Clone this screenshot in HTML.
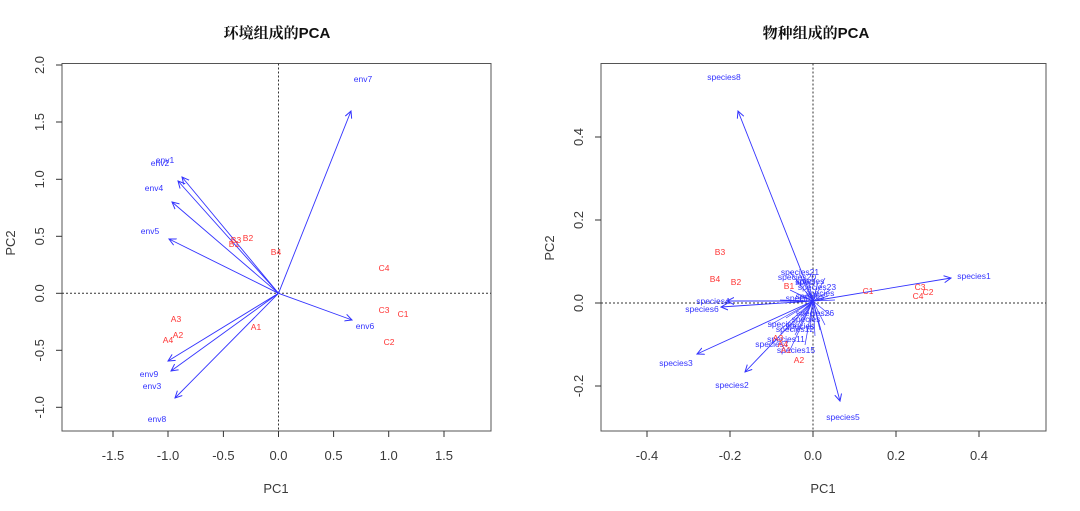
<!DOCTYPE html>
<html><head><meta charset="utf-8"><style>
body{margin:0;background:#fff;}
svg{display:block;font-family:"Liberation Sans",Arial,sans-serif;}
.t{font-size:13px;fill:#3a3a3a}
.b{font-size:8.5px;fill:#33f}
.r{font-size:8.5px;fill:#f33}
</style></head><body>
<svg width="1080" height="511" viewBox="0 0 1080 511">
<defs>
<marker id="ah" markerWidth="8" markerHeight="8" refX="7" refY="4" orient="auto" markerUnits="userSpaceOnUse"><path d="M0,0.5 L7,4 L0,7.5" fill="none" stroke="#33f" stroke-width="1"/></marker>
</defs>
<!-- LEFT -->
<text x="277" y="38" text-anchor="middle" style="font-family:'Liberation Sans','Noto Serif CJK SC',serif;font-weight:bold;font-size:15px;fill:#111">环境组成的PCA</text>
<rect x="62" y="63.5" width="429" height="367.5" fill="none" stroke="#555" stroke-width="1"/>
<line x1="278.5" y1="63.5" x2="278.5" y2="431" stroke="#333" stroke-dasharray="2,2"/>
<line x1="62" y1="293.3" x2="491" y2="293.3" stroke="#333" stroke-dasharray="2,2"/>
<g stroke="#333">
<line x1="113" y1="431" x2="113" y2="437"/><line x1="168" y1="431" x2="168" y2="437"/><line x1="223.4" y1="431" x2="223.4" y2="437"/><line x1="278.5" y1="431" x2="278.5" y2="437"/><line x1="333.6" y1="431" x2="333.6" y2="437"/><line x1="388.7" y1="431" x2="388.7" y2="437"/><line x1="444" y1="431" x2="444" y2="437"/>
<line x1="56" y1="65" x2="62" y2="65"/><line x1="56" y1="122" x2="62" y2="122"/><line x1="56" y1="179.3" x2="62" y2="179.3"/><line x1="56" y1="236.3" x2="62" y2="236.3"/><line x1="56" y1="293.3" x2="62" y2="293.3"/><line x1="56" y1="350.3" x2="62" y2="350.3"/><line x1="56" y1="407.3" x2="62" y2="407.3"/>
</g>
<g class="t" text-anchor="middle">
<text x="113" y="460">-1.5</text><text x="168" y="460">-1.0</text><text x="223.4" y="460">-0.5</text><text x="278.5" y="460">0.0</text><text x="333.6" y="460">0.5</text><text x="388.7" y="460">1.0</text><text x="444" y="460">1.5</text>
<text x="276" y="493">PC1</text>
</g>
<g class="t" text-anchor="middle">
<text transform="translate(44,65) rotate(-90)">2.0</text><text transform="translate(44,122) rotate(-90)">1.5</text><text transform="translate(44,179.3) rotate(-90)">1.0</text><text transform="translate(44,236.3) rotate(-90)">0.5</text><text transform="translate(44,293.3) rotate(-90)">0.0</text><text transform="translate(44,350.3) rotate(-90)">-0.5</text><text transform="translate(44,407.3) rotate(-90)">-1.0</text>
<text transform="translate(15,243) rotate(-90)">PC2</text>
</g>
<g stroke="#33f" stroke-width="0.9" marker-end="url(#ah)">
<line x1="278.5" y1="293.3" x2="351" y2="111"/>
<line x1="278.5" y1="293.3" x2="182" y2="177"/>
<line x1="278.5" y1="293.3" x2="178" y2="181"/>
<line x1="278.5" y1="293.3" x2="172" y2="202"/>
<line x1="278.5" y1="293.3" x2="169" y2="239"/>
<line x1="278.5" y1="293.3" x2="352" y2="320"/>
<line x1="278.5" y1="293.3" x2="168" y2="361"/>
<line x1="278.5" y1="293.3" x2="171" y2="371"/>
<line x1="278.5" y1="293.3" x2="175" y2="398"/>
</g>
<g class="b" text-anchor="middle">
<text x="363" y="82">env7</text><text x="165" y="163">env1</text><text x="160" y="166">env2</text><text x="154" y="191">env4</text><text x="150" y="234">env5</text><text x="365" y="329">env6</text><text x="149" y="377">env9</text><text x="152" y="389">env3</text><text x="157" y="422">env8</text>
</g>
<g class="r" text-anchor="middle">
<text x="248" y="241">B2</text><text x="236" y="243">B3</text><text x="234" y="247">B1</text><text x="276" y="255">B4</text><text x="384" y="271">C4</text><text x="384" y="313">C3</text><text x="403" y="317">C1</text><text x="389" y="345">C2</text><text x="176" y="322">A3</text><text x="178" y="338">A2</text><text x="168" y="343">A4</text><text x="256" y="330">A1</text>
</g>

<!-- RIGHT -->
<text x="816" y="38" text-anchor="middle" style="font-family:'Liberation Sans','Noto Serif CJK SC',serif;font-weight:bold;font-size:15px;fill:#111">物种组成的PCA</text>
<rect x="601" y="63.5" width="445" height="367.5" fill="none" stroke="#555" stroke-width="1"/>
<line x1="813" y1="63.5" x2="813" y2="431" stroke="#333" stroke-dasharray="2,2"/>
<line x1="601" y1="303" x2="1046" y2="303" stroke="#333" stroke-dasharray="2,2"/>
<g stroke="#333">
<line x1="647" y1="431" x2="647" y2="437"/><line x1="730" y1="431" x2="730" y2="437"/><line x1="813" y1="431" x2="813" y2="437"/><line x1="896" y1="431" x2="896" y2="437"/><line x1="979" y1="431" x2="979" y2="437"/>
<line x1="595" y1="137" x2="601" y2="137"/><line x1="595" y1="220" x2="601" y2="220"/><line x1="595" y1="303" x2="601" y2="303"/><line x1="595" y1="386" x2="601" y2="386"/>
</g>
<g class="t" text-anchor="middle">
<text x="647" y="460">-0.4</text><text x="730" y="460">-0.2</text><text x="813" y="460">0.0</text><text x="896" y="460">0.2</text><text x="979" y="460">0.4</text>
<text x="823" y="493">PC1</text>
<text transform="translate(583,137) rotate(-90)">0.4</text><text transform="translate(583,220) rotate(-90)">0.2</text><text transform="translate(583,303) rotate(-90)">0.0</text><text transform="translate(583,386) rotate(-90)">-0.2</text>
<text transform="translate(554,248) rotate(-90)">PC2</text>
</g>
<g stroke="#33f" stroke-width="0.9" marker-end="url(#ah)">
<line x1="813" y1="301" x2="738" y2="111"/>
<line x1="813" y1="301" x2="951" y2="278"/>
<line x1="813" y1="301" x2="697" y2="354"/>
<line x1="813" y1="301" x2="745" y2="372"/>
<line x1="813" y1="301" x2="840" y2="401"/>
<line x1="813" y1="301" x2="727" y2="301"/>
<line x1="813" y1="301" x2="721" y2="307"/>
</g>
<g stroke="#33f" stroke-width="0.7">
<line x1="813" y1="301" x2="790" y2="272"/><line x1="813" y1="301" x2="800" y2="275"/><line x1="813" y1="301" x2="825" y2="278"/><line x1="813" y1="301" x2="830" y2="290"/><line x1="813" y1="301" x2="790" y2="290"/><line x1="813" y1="301" x2="835" y2="300"/><line x1="813" y1="301" x2="780" y2="330"/><line x1="813" y1="301" x2="795" y2="335"/><line x1="813" y1="301" x2="805" y2="345"/><line x1="813" y1="301" x2="820" y2="330"/><line x1="813" y1="301" x2="790" y2="350"/><line x1="813" y1="301" x2="770" y2="325"/><line x1="813" y1="301" x2="825" y2="325"/><line x1="813" y1="301" x2="780" y2="300"/>
<line x1="813" y1="301" x2="808" y2="280"/><line x1="813" y1="301" x2="818" y2="282"/><line x1="813" y1="301" x2="828" y2="296"/><line x1="813" y1="301" x2="800" y2="296"/><line x1="813" y1="301" x2="798" y2="325"/><line x1="813" y1="301" x2="810" y2="330"/><line x1="813" y1="301" x2="815" y2="336"/><line x1="813" y1="301" x2="786" y2="318"/><line x1="813" y1="301" x2="830" y2="315"/><line x1="813" y1="301" x2="802" y2="315"/>
</g>
<g class="b" text-anchor="middle">
<text x="724" y="80">species8</text><text x="974" y="279">species1</text><text x="676" y="366">species3</text><text x="732" y="388">species2</text><text x="843" y="420">species5</text><text x="713" y="304">species4</text><text x="702" y="312">species6</text>
<text x="800" y="275">species21</text><text x="797" y="280">species20</text><text x="810" y="284">species</text><text x="800" y="301">species</text><text x="815" y="316">species26</text><text x="782" y="327">species</text><text x="795" y="332">species12</text><text x="800" y="329">species</text><text x="786" y="342">species11</text><text x="772" y="347">species7</text><text x="796" y="353">species15</text><text x="817" y="290">species23</text><text x="820" y="296">species</text><text x="805" y="285">speci</text><text x="810" y="299">species</text><text x="806" y="322">species</text>
</g>
<g class="r" text-anchor="middle">
<text x="720" y="255">B3</text><text x="715" y="282">B4</text><text x="736" y="285">B2</text><text x="789" y="289">B1</text><text x="868" y="294">C1</text><text x="920" y="290">C3</text><text x="928" y="295">C2</text><text x="918" y="299">C4</text><text x="778" y="341">A3</text><text x="783" y="347">A4</text><text x="786" y="353">A1</text><text x="799" y="363">A2</text>
</g>
</svg>
</body></html>
